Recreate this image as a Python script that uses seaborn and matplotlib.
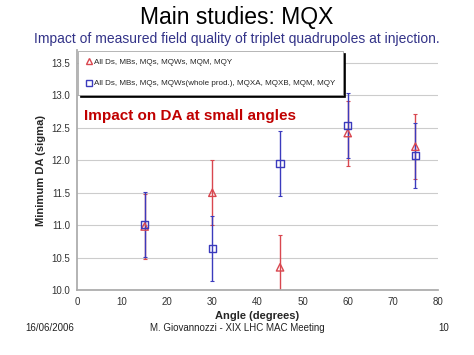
import matplotlib
matplotlib.use("Agg")
import matplotlib.pyplot as plt
import seaborn as sns
import pandas as pd
import numpy as np
from matplotlib.lines import Line2D

angles = [15, 30, 45, 60, 75]
red_da = [10.98, 11.50, 10.35, 12.42, 12.21]
blue_da = [11.01, 10.64, 11.95, 12.54, 12.07]
err = [0.5, 0.5, 0.5, 0.5, 0.5]
red_label = "All Ds, MBs, MQs, MQWs, MQM, MQY"
blue_label = "All Ds, MBs, MQs, MQWs(whole prod.), MQXA, MQXB, MQM, MQY"
yticks = [10.0, 10.5, 11.0, 11.5, 12.0, 12.5, 13.0, 13.5]
xticks = [0, 10, 20, 30, 40, 50, 60, 70, 80]

red_c = "#d9474f"
blue_c = "#3b3bbd"

sns.set_theme(style="whitegrid")
plt.rcParams['font.family'] = ['Liberation Sans', 'DejaVu Sans']

df = pd.DataFrame({
    "angle": angles + angles,
    "da": red_da + blue_da,
    "err": err + err,
    "series": [red_label] * 5 + [blue_label] * 5,
})

fig = plt.figure(figsize=(4.74, 3.55), dpi=100)
ax = fig.add_axes([0.1624, 0.183, 0.7616, 0.676])

for lab, c in [(red_label, red_c), (blue_label, blue_c)]:
    sub = df[df.series == lab]
    ax.errorbar(sub.angle, sub.da, yerr=sub.err, fmt='none', ecolor=c,
                elinewidth=1.0, capsize=1.5, capthick=0.8, zorder=2)

sns.scatterplot(data=df, x="angle", y="da", hue="series", style="series",
                markers={red_label: "^", blue_label: "s"},
                palette={red_label: red_c, blue_label: blue_c},
                s=28, linewidth=1.0, ax=ax, zorder=3, legend=False)
sc = ax.collections[-1]
sc.set_edgecolors(sc.get_facecolors())
sc.set_facecolors("none")

ax.set_xlim(0, 80)
ax.set_ylim(10, 13.7)
ax.set_xticks(xticks)
ax.set_yticks(yticks)
ax.set_yticklabels([f"{v:.1f}" for v in yticks])
ax.tick_params(axis='both', labelsize=7, colors="#333333", length=2, pad=3)
ax.grid(axis='x', visible=False)
ax.grid(axis='y', color="#cccccc", linewidth=0.8)
for s in ["top", "right"]:
    ax.spines[s].set_visible(False)
ax.spines["left"].set_color("#aaaaaa")
ax.spines["bottom"].set_color("#aaaaaa")
ax.set_xlabel("Angle (degrees)", fontsize=8, fontweight="bold", labelpad=3)
ax.set_ylabel("Minimum DA (sigma)", fontsize=8, fontweight="bold", labelpad=4)

handles = [
    Line2D([], [], marker="^", color=red_c, markerfacecolor="none", linestyle="none", markersize=4),
    Line2D([], [], marker="s", color=blue_c, markerfacecolor="none", linestyle="none", markersize=4),
]
leg = ax.legend(handles, [red_label, blue_label], loc="upper left",
                bbox_to_anchor=(0.0, 1.0), fontsize=5.8, frameon=True,
                fancybox=False, shadow={'color': 'black', 'alpha': 1.0, 'ox': 1.5, 'oy': -1.5},
                borderaxespad=0.15,
                handletextpad=0.3, handlelength=0.8, labelspacing=1.7,
                borderpad=0.9)
leg.get_frame().set_edgecolor("#999999")
leg.get_frame().set_linewidth(0.5)

ax.text(0.02, 0.725, "Impact on DA at small angles", transform=ax.transAxes,
        fontsize=11, fontweight="bold", color="#c00000", ha="left", va="center")

fig.text(0.5, 0.952, "Main studies: MQX", fontsize=16.5, ha="center", va="center", color="black")
fig.text(0.5, 0.89, "Impact of measured field quality of triplet quadrupoles at injection.",
         fontsize=10, ha="center", va="center", color="#333388")
fig.text(0.105, 0.075, "16/06/2006", fontsize=7, ha="center", va="center", color="#222222")
fig.text(0.5, 0.075, "M. Giovannozzi - XIX LHC MAC Meeting", fontsize=7, ha="center", va="center", color="#222222")
fig.text(0.937, 0.075, "10", fontsize=7, ha="center", va="center", color="#222222")

fig.savefig("out.png", dpi=100)
